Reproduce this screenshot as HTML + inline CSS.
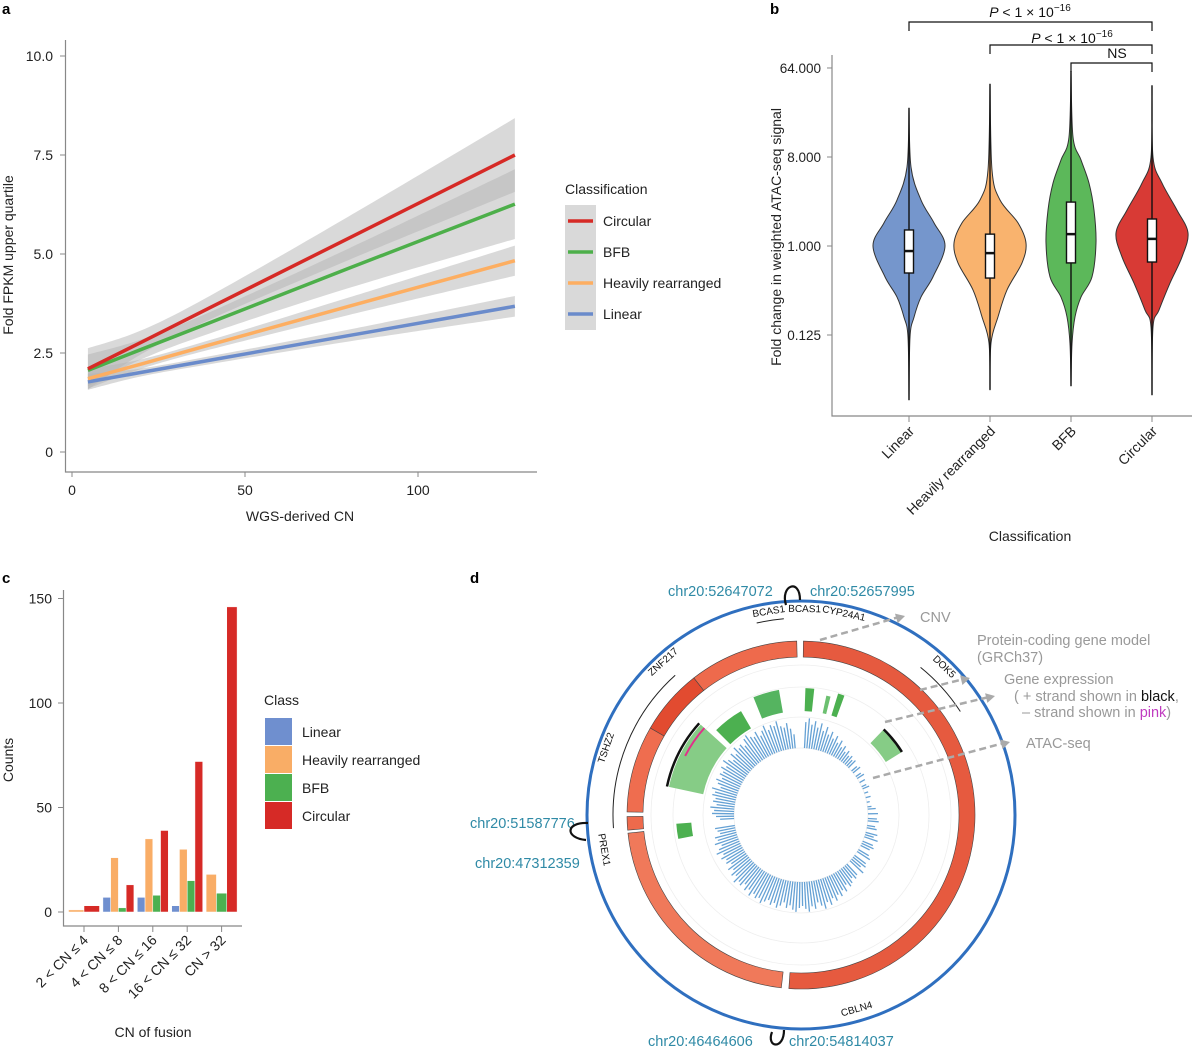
<!DOCTYPE html>
<html><head><meta charset="utf-8">
<style>
html,body{margin:0;padding:0;background:#fff;}
svg{display:block;font-family:"Liberation Sans",Arial,sans-serif;}
</style></head>
<body>
<svg id="fig" width="1200" height="1049" viewBox="0 0 1200 1049" xmlns="http://www.w3.org/2000/svg">
<g id="pa"></g>
<g id="pb"></g>
<g id="pc"></g>
<g id="pd"></g>
</svg>
<script>
// ---------- Panel a data ----------
const aClasses = ["Circular","BFB","Heavily rearranged","Linear"];
const aColors = ["#d62a26","#4daf4a","#fdae61","#6a8bcb"];
const aX = [4.6, 20, 40, 80, 128];
const aFit = [[2.1,2.77,3.65,5.4,7.5],[2.06,2.59,3.27,4.64,6.26],[1.85,2.22,2.71,3.68,4.83],[1.77,2.01,2.32,2.94,3.68]];
const aLow = [[1.58,2.47,3.35,4.85,6.57],[1.66,2.34,3.0,4.14,5.38],[1.6,2.1,2.59,3.46,4.45],[1.57,1.91,2.22,2.79,3.42]];
const aHigh = [[2.62,3.07,3.95,5.95,8.43],[2.46,2.84,3.54,5.14,7.14],[2.1,2.34,2.83,3.9,5.21],[1.97,2.11,2.42,3.09,3.94]];
const aXTicks = [0,50,100];
const aYTicks = [0,2.5,5.0,7.5,10.0];
const aYTickLabels = ["0","2.5","5.0","7.5","10.0"];

// ---------- Panel b data ----------
const bCats = ["Linear","Heavily rearranged","BFB","Circular"];
const bColors = ["#7596cc","#f9b36e","#5cb85a","#d83a35"];
const bTicks = [6,3,0,-3];
const bTickLabels = ["64.000","8.000","1.000","0.125"];
const bViolinLevels = [
 [4.65,2.66,1.55,0.78,0,-1.04,-1.72,-2.4,-3.07,-5.19],
 [5.46,2.56,1.55,0.78,0.1,-0.57,-1.48,-2.39,-3.27,-4.85],
 [5.9,3.67,2.9,2.12,1.21,0.1,-1.04,-1.72,-2.39,-3.3,-4.72],
 [5.41,3.0,2.12,1.21,0.44,-0.37,-1.25,-2.16,-2.73,-5.02]];
const bViolinWidths = [
 [0,2,12,25,36,24,12,5,1,0],
 [0,2,10,28,36,32,17,8,1,0],
 [0,2,10,18,23,25,21,10,4,1,0],
 [0,1,10,25,36,30,18,7,1,0]];
const bQ1 = [-0.91,-1.08,-0.57,-0.54];
const bMed = [-0.17,-0.24,0.4,0.24];
const bQ3 = [0.54,0.4,1.48,0.91];

// ---------- Panel c data ----------
const cGroups = ["2 < CN \u2264 4","4 < CN \u2264 8","8 < CN \u2264 16","16 < CN \u2264 32","CN > 32"];
const cClasses = ["Linear","Heavily rearranged","BFB","Circular"];
const cColors = ["#6f8fcf","#f9ad66","#4cb050","#d62a26"];
const cLinear = [null,7,7,3,null];
const cHeavy = [1,26,35,30,18];
const cBFB = [null,2,8,15,9];
const cCirc = [3,13,39,72,146];
const cYTicks = [0,50,100,150];

// ---------- Panel d data ----------
const dAtac = [0,26,30,24,28,22,27,20,25,18,
 22,16,20,14,18,12,15,10,13,9,
 11,8,10,0,7,9,0,6,8,0,
 6,0,5,7,0,4,0,5,0,3,
 0,4,8,0,10,0,9,11,0,8,
 10,0,12,9,14,0,11,13,10,0,
 12,15,0,14,16,12,18,0,15,17,
 14,18,20,16,22,19,24,21,26,22,
 28,24,30,26,22,28,25,30,27,24,
 26,30,28,24,27,22,26,29,25,28,
 24,27,30,26,28,25,29,24,27,22,
 26,24,28,22,25,20,24,18,22,20,
 24,20,26,22,18,24,20,22,16,18,
 20,0,0,14,18,22,20,24,18,22,
 20,24,22,26,18,22,25,20,24,22,
 26,22,28,24,20,26,22,28,24,26,
 22,28,30,26,24,28,22,26,30,24,
 28,26,30,24,22,26,20,14,0,0];

const NS="http://www.w3.org/2000/svg";
function el(parent,tag,attrs,text){const e=document.createElementNS(NS,tag);for(const k in attrs)e.setAttribute(k,attrs[k]);if(text!==undefined)e.textContent=text;parent.appendChild(e);return e;}
function smooth(pts){let d='';for(let i=0;i<pts.length-1;i++){const p0=pts[Math.max(0,i-1)],p1=pts[i],p2=pts[i+1],p3=pts[Math.min(pts.length-1,i+2)];
 const c1=[p1[0]+(p2[0]-p0[0])/6,p1[1]+(p2[1]-p0[1])/6],c2=[p2[0]-(p3[0]-p1[0])/6,p2[1]-(p3[1]-p1[1])/6];
 d+=' C'+c1[0]+','+c1[1]+' '+c2[0]+','+c2[1]+' '+p2[0]+','+p2[1];}return d;}

// ===== Panel a =====
(function(){
 const g=document.getElementById('pa');
 const X=v=>72+v*3.46, Y=v=>452-v*39.6;
 let t=el(g,'text',{x:2,y:14,'font-size':15,'font-weight':'bold'},'a');
 
 
 let ax=el(g,'path',{d:'M65.5,40 V472 H537',fill:'none',stroke:'#888','stroke-width':1.2});
 
 
 aYTicks.forEach((v,i)=>{
  el(g,'line',{x1:60,x2:65,y1:Y(v),y2:Y(v),stroke:'#888'});
  let tl=el(g,'text',{x:53,y:Y(v)+5,'font-size':14,'text-anchor':'end',fill:'#222'},aYTickLabels[i]);
  
  
 });
 aXTicks.forEach(v=>{
  el(g,'line',{x1:X(v),x2:X(v),y1:472,y2:477,stroke:'#888'});
  let tl=el(g,'text',{x:X(v),y:495,'font-size':14,'text-anchor':'middle',fill:'#222'},String(v));
  
  
 });
 let xl=el(g,'text',{x:300,y:521,'font-size':14,'text-anchor':'middle',fill:'#222'},'WGS-derived CN');
 
 
 let yl=el(g,'text',{x:0,y:0,'font-size':14,'text-anchor':'middle',fill:'#222',transform:'translate(13,255) rotate(-90)'},'Fold FPKM upper quartile');
 
 
 aClasses.forEach((c,i)=>{
  const up=aX.map((x,j)=>[X(x),Y(aHigh[i][j])]);
  const lo=aX.map((x,j)=>[X(x),Y(aLow[i][j])]).reverse();
  const d='M'+up[0]+smooth(up)+' L'+lo[0]+smooth(lo)+'Z';
  let b=el(g,'path',{d:d,fill:'#b4b4b4','fill-opacity':0.5});
  
  
 });
 aClasses.slice().reverse().forEach((c,ri)=>{
  const i=aClasses.length-1-ri;
  let l=el(g,'polyline',{points:aX.map((x,j)=>X(x)+','+Y(aFit[i][j])).join(' '),fill:'none',stroke:aColors[i],'stroke-width':3.5});
  
  
 });
 let lt=el(g,'text',{x:565,y:194,'font-size':14,fill:'#222'},'Classification');
 
 
 let lb=el(g,'rect',{x:565,y:205,width:31,height:125,fill:'#d9d9d9'});
 
 
 aClasses.forEach((c,i)=>{
  const y=221+i*31;
  let k=el(g,'line',{x1:568,x2:593,y1:y,y2:y,stroke:aColors[i],'stroke-width':3.5});
  
  
  let tx=el(g,'text',{x:603,y:y+5,'font-size':14,fill:'#222'},c);
  
  
 });
})();

// ===== Panel b =====
(function(){
 const g=document.getElementById('pb');
 const Y=v=>246-v*29.67; const XC=i=>909+i*81;
 let t=el(g,'text',{x:770,y:14,'font-size':15,'font-weight':'bold'},'b');
 
 
 let ax=el(g,'path',{d:'M832,55 V416 H1192',fill:'none',stroke:'#888','stroke-width':1.2});
 
 
 bTicks.forEach((v,i)=>{
  el(g,'line',{x1:827,x2:832,y1:Y(v),y2:Y(v),stroke:'#888'});
  let tl=el(g,'text',{x:821,y:Y(v)+5,'font-size':13.5,'text-anchor':'end',fill:'#222'},bTickLabels[i]);
  
  
 });
 let yl=el(g,'text',{x:0,y:0,'font-size':14,'text-anchor':'middle',fill:'#222',transform:'translate(781,237) rotate(-90)'},'Fold change in weighted ATAC-seq signal');
 
 
 bCats.forEach((c,i)=>{
  const cx=XC(i), L=bViolinLevels[i], W=bViolinWidths[i];
  const right=L.map((l,j)=>[cx+W[j],Y(l)]);
  const left=L.map((l,j)=>[cx-W[j],Y(l)]).reverse();
  const d='M'+right[0]+smooth(right)+smooth(left)+'Z';
  let v=el(g,'path',{d:d,fill:bColors[i],stroke:'#333','stroke-width':1,'stroke-linejoin':'round'});
  
  
  el(g,'line',{x1:cx,x2:cx,y1:Y(L[0]),y2:Y(L[L.length-1]),stroke:'#111','stroke-width':1.4});
  let bx=el(g,'rect',{x:cx-4.5,y:Y(bQ3[i]),width:9,height:Y(bQ1[i])-Y(bQ3[i]),fill:'#fff',stroke:'#111','stroke-width':1.4});
  
  
  el(g,'line',{x1:cx-4.5,x2:cx+4.5,y1:Y(bMed[i]),y2:Y(bMed[i]),stroke:'#111','stroke-width':2.5});
  el(g,'line',{x1:cx,x2:cx,y1:416,y2:422,stroke:'#888'});
  let tl=el(g,'text',{x:0,y:0,'font-size':14,'text-anchor':'end',fill:'#222',transform:'translate('+(cx+6)+',432) rotate(-45)'},c);
  
  
 });
 let xl=el(g,'text',{x:1030,y:541,'font-size':14,'text-anchor':'middle',fill:'#222'},'Classification');
 
 
 const br=[[0,3,22,'P','1030',12],[1,3,45,'P','1072',38],[2,3,63,'NS','1117',58]];
 br.forEach((b,k)=>{
  let p=el(g,'path',{d:'M'+XC(b[0])+','+(b[2]+9)+' V'+b[2]+' H'+XC(b[1])+' V'+(b[2]+9),fill:'none',stroke:'#111','stroke-width':1.2});
  
  
  let tx;
  if(b[3]==='NS'){tx=el(g,'text',{x:b[4],y:b[5],'font-size':14,'text-anchor':'middle',fill:'#111'},'NS');}
  else{tx=el(g,'text',{x:b[4],y:b[5]+5,'font-size':14,'text-anchor':'middle',fill:'#111'});
   el(tx,'tspan',{'font-style':'italic'},'P');
   el(tx,'tspan',{},' < 1 \u00d7 10');
   el(tx,'tspan',{'font-size':10,dy:-6},'\u221216');}
  
  
 });
})();

// ===== Panel c =====
(function(){
 const g=document.getElementById('pc');
 const Y=v=>912-v*2.09; const GC=i=>84+i*34.4;
 let t=el(g,'text',{x:2,y:583,'font-size':15,'font-weight':'bold'},'c');
 
 
 let ax=el(g,'path',{d:'M63.5,590 V926 H242',fill:'none',stroke:'#888','stroke-width':1.2});
 
 
 cYTicks.forEach(v=>{
  el(g,'line',{x1:58,x2:63,y1:Y(v),y2:Y(v),stroke:'#888'});
  let tl=el(g,'text',{x:52,y:Y(v)+5,'font-size':14,'text-anchor':'end',fill:'#222'},String(v));
  
  
 });
 let yl=el(g,'text',{x:0,y:0,'font-size':14,'text-anchor':'middle',fill:'#222',transform:'translate(13,760) rotate(-90)'},'Counts');
 
 
 const series=[cLinear,cHeavy,cBFB,cCirc];
 cGroups.forEach((gname,i)=>{
  const present=series.map(s=>s[i]).map((v,k)=>[v,k]).filter(a=>a[0]!==null);
  const w=31/present.length, x0=GC(i)-15.5;
  present.forEach((a,j)=>{
   let r=el(g,'rect',{x:x0+j*w,y:Y(a[0]),width:w,height:Y(0)-Y(a[0]),fill:cColors[a[1]],stroke:'#fff','stroke-width':0.5});
   
   
  });
  el(g,'line',{x1:GC(i),x2:GC(i),y1:926,y2:932,stroke:'#888'});
  let tl=el(g,'text',{x:0,y:0,'font-size':14,'text-anchor':'end',fill:'#222',transform:'translate('+(GC(i)+5)+',941) rotate(-45)'},gname);
  
  
 });
 let xl=el(g,'text',{x:153,y:1037,'font-size':14,'text-anchor':'middle',fill:'#222'},'CN of fusion');
 
 
 let lt=el(g,'text',{x:264,y:705,'font-size':14,fill:'#222'},'Class');
 
 
 cClasses.forEach((c,i)=>{
  const y=718+i*28;
  let s=el(g,'rect',{x:265,y:y,width:27,height:27,fill:cColors[i]});
  
  
  let tx=el(g,'text',{x:302,y:y+19,'font-size':14,fill:'#222'},c);
  
  
 });
})();

// ===== Panel d =====
(function(){
 const g=document.getElementById('pd');
 const CX=801, CY=815;
 const P=(r,a)=>{const t=a*Math.PI/180;return [CX+r*Math.sin(t),CY-r*Math.cos(t)];};
 function wedge(r0,r1,a0,a1){const p1=P(r1,a0),p2=P(r1,a1),p3=P(r0,a1),p4=P(r0,a0);const lg=(a1-a0)>180?1:0;
  return 'M'+p1+' A'+r1+','+r1+' 0 '+lg+' 1 '+p2+' L'+p3+' A'+r0+','+r0+' 0 '+lg+' 0 '+p4+'Z';}
 function arc(r,a0,a1){const p1=P(r,a0),p2=P(r,a1);return 'M'+p1+' A'+r+','+r+' 0 '+((a1-a0)>180?1:0)+' 1 '+p2;}
 let t=el(g,'text',{x:470,y:583,'font-size':15,'font-weight':'bold'},'d');
 
 
 [67,98,128,150].forEach(r=>el(g,'circle',{cx:CX,cy:CY,r:r,fill:'none',stroke:'#eee','stroke-width':0.8}));
 let bc=el(g,'circle',{cx:CX,cy:CY,r:214,fill:'none',stroke:'#2f6fbf','stroke-width':3});
 
 
 const cnv=[[0.8,184,'#e65a3f'],[186.5,264,'#f0795a'],[265,269.5,'#ee6a4c'],[271,300,'#ef6d4f'],[300,322,'#e24b30'],[322,358.6,'#ee6a4c']];
 cnv.forEach(s=>{let w=el(g,'path',{d:wedge(158,174,s[0],s[1]),fill:s[2],stroke:'#444','stroke-width':0.6});
  
  });
 const n=dAtac.length;
 dAtac.forEach((h,i)=>{if(!h)return;const a=i*360/n+1;const p0=P(67,a),p1=P(67+h,a);
  let b=el(g,'line',{x1:p0[0],y1:p0[1],x2:p1[0],y2:p1[1],stroke:'#4a90cc','stroke-width':1.3,'stroke-opacity':0.85});
  
  });
 const ge=[[338,350,104,127,'#55b460'],[2,6,104,127,'#4cb050'],[12,14,104,122,'#6cc070'],[17,20,104,127,'#4cb050'],[44,58,100,118,'#86cc86'],[315,330,100,120,'#4cb050'],[282,312,100,135,'#86cc86'],[259,266,110,125,'#4cb050']];
 ge.forEach(s=>{let w=el(g,'path',{d:wedge(s[2],s[3],s[0],s[1]),fill:s[4]});
  
  });
 el(g,'path',{d:arc(137,282,312),fill:'none',stroke:'#111','stroke-width':2.5});
 el(g,'path',{d:arc(119,44,58),fill:'none',stroke:'#111','stroke-width':2.5});
 el(g,'path',{d:arc(130,297,312),fill:'none',stroke:'#e0308a','stroke-width':2});
 el(g,'path',{d:arc(188,266,318),fill:'none',stroke:'#222','stroke-width':1});
 el(g,'path',{d:arc(190,39,57),fill:'none',stroke:'#222','stroke-width':1});
 el(g,'path',{d:arc(197,347,355),fill:'none',stroke:'#222','stroke-width':1});
 const genes=[['TSHZ2',289,203,-71],['ZNF217',318,203,-42],['BCAS1',351,203,-9],['BCAS1',1,203,1],['CYP24A1',12,203,12],['DOK5',44,203,44],['PREX1',260,203,80],['CBLN4',164,205,-16]];
 genes.forEach(gn=>{const p=P(gn[2],gn[1]);
  let tx=el(g,'text',{x:0,y:0,'font-size':10,'text-anchor':'middle',fill:'#111',transform:'translate('+p[0]+','+p[1]+') rotate('+gn[3]+')'},gn[0]);
  
  });
 const bl=[['chr20:52647072',668,596],['chr20:52657995',810,596],['chr20:51587776',470,828],['chr20:47312359',475,868],['chr20:46464606',648,1046],['chr20:54814037',789,1046]];
 bl.forEach(b=>{let tx=el(g,'text',{x:b[1],y:b[2],'font-size':14.5,fill:'#2f8aa6'},b[0]);
  
  });
 [['M786,605 C780,585 800,578 800,600',''],['M588,823 C565,822 565,838 586,840',''],['M772,1032 C766,1048 784,1050 784,1030','']].forEach(a=>{
  let p=el(g,'path',{d:a[0],fill:'none',stroke:'#111','stroke-width':2.2});
  
  });
 const ann=[['CNV',920,622,'#999'],['Protein-coding gene model',977,645,'#999'],['(GRCh37)',977,662,'#999'],['Gene expression',1004,684,'#999']];
 ann.forEach(a=>{let tx=el(g,'text',{x:a[1],y:a[2],'font-size':14.5,fill:a[3]},a[0]);
  
  });
 let t1=el(g,'text',{x:1014,y:701,'font-size':14.5,fill:'#999'});
 el(t1,'tspan',{},'( + strand shown in ');el(t1,'tspan',{fill:'#111'},'black');el(t1,'tspan',{},',');
 
 
 let t2=el(g,'text',{x:1022,y:717,'font-size':14.5,fill:'#999'});
 el(t2,'tspan',{},'\u2013 strand shown in ');el(t2,'tspan',{fill:'#c03cc0'},'pink');el(t2,'tspan',{},')');
 
 
 let t3=el(g,'text',{x:1026,y:748,'font-size':14.5,fill:'#999'},'ATAC-seq');
 
 
 const arrows=[[820,640,905,616],[920,690,970,678],[885,722,995,696],[873,778,1010,742]];
 arrows.forEach(a=>{
  let l=el(g,'line',{x1:a[0],y1:a[1],x2:a[2]-6,y2:a[3]+1,stroke:'#aaa','stroke-width':2.5,'stroke-dasharray':'7,4'});
  
  
  const ang=Math.atan2(a[3]-a[1],a[2]-a[0]);
  const p=[[a[2],a[3]],[a[2]-9*Math.cos(ang)+5*Math.sin(ang),a[3]-9*Math.sin(ang)-5*Math.cos(ang)],[a[2]-9*Math.cos(ang)-5*Math.sin(ang),a[3]-9*Math.sin(ang)+5*Math.cos(ang)]];
  el(g,'polygon',{points:p.map(q=>q.join(',')).join(' '),fill:'#aaa'});
 });
})();
</script>
</body></html>
